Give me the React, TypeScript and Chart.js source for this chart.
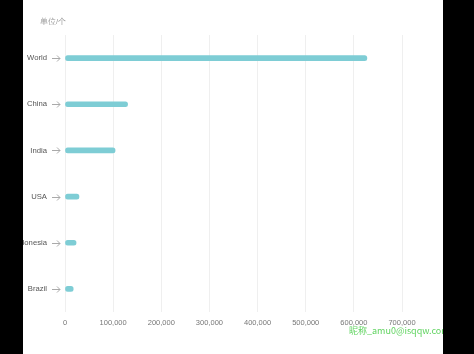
import React, { useEffect, useRef } from "react";
import { Chart, registerables } from "chart.js";

Chart.register(...registerables);

const categories = ["World", "China", "India", "USA", "Indonesia", "Brazil"];
const values = [627000, 130000, 104000, 29000, 23000, 17000];
const xTicks = [0, 100000, 200000, 300000, 400000, 500000, 600000, 700000];
const unitLabel = "单位/个";
const watermark = "昵称_amu0@isqqw.com";

const FONT = "'Liberation Sans', Arial, sans-serif";

const extrasPlugin = {
  id: "extras",
  afterDraw(chart: any) {
    const ctx = chart.ctx;
    const y = chart.scales.y;
    const left = chart.chartArea.left;
    ctx.save();
    ctx.strokeStyle = "#aaaaaa";
    ctx.lineWidth = 1;
    y.ticks.forEach((_t: any, i: number) => {
      const py = Math.round(y.getPixelForTick(i)) + 0.5;
      const x0 = left - 13;
      const x1 = left - 5;
      ctx.beginPath();
      ctx.moveTo(x0, py);
      ctx.lineTo(x1, py);
      ctx.moveTo(x1 - 3, py - 3);
      ctx.lineTo(x1, py);
      ctx.lineTo(x1 - 3, py + 3);
      ctx.stroke();
    });
    ctx.fillStyle = "#999999";
    ctx.font = `7.5px ${FONT}`;
    ctx.textBaseline = "middle";
    ctx.textAlign = "left";
    ctx.fillText(unitLabel, 17, 22);
    ctx.restore();
  },
};

export default function App() {
  const ref = useRef<HTMLCanvasElement>(null);
  useEffect(() => {
    document.body.style.margin = "0";
    const chart = new Chart(ref.current!, {
      type: "bar",
      data: {
        labels: categories,
        datasets: [
          {
            data: values,
            backgroundColor: "#7ecdd5",
            barThickness: 5,
            borderRadius: 3,
            borderSkipped: false,
          },
        ],
      },
      options: {
        indexAxis: "y",
        responsive: false,
        animation: false,
        devicePixelRatio: 1,
        layout: { padding: { top: 35, right: 41, bottom: 0, left: 0 } },
        plugins: { legend: { display: false }, tooltip: { enabled: false } },
        scales: {
          x: {
            min: 0,
            max: 700000,
            afterBuildTicks: (s: any) => {
              s.ticks = xTicks.map((v) => ({ value: v }));
            },
            afterFit: (s: any) => {
              s.height = 42;
            },
            border: { display: false },
            grid: { color: "#efefef", drawTicks: false },
            ticks: {
              padding: 6,
              color: "#777777",
              font: { size: 7.5, family: FONT },
              callback: (v: any) => Number(v).toLocaleString("en-US"),
            },
          },
          y: {
            afterFit: (s: any) => {
              s.width = 42;
            },
            border: { display: false },
            grid: { display: false, drawTicks: false },
            ticks: {
              padding: 18,
              color: "#555555",
              font: { size: 7.7, family: FONT },
            },
          },
        },
      },
      plugins: [extrasPlugin],
    });
    return () => chart.destroy();
  }, []);
  return (
    <div style={{ position: "fixed", left: 0, top: 0, width: 474, height: 354, background: "#000" }}>
      <div style={{ position: "absolute", left: 23, top: 0, width: 420, height: 354, background: "#fff", overflow: "hidden" }}>
        <canvas ref={ref} width={420} height={354} style={{ display: "block", width: 420, height: 354 }} />
        <div
          style={{
            position: "absolute",
            left: 326,
            top: 325,
            whiteSpace: "nowrap",
            color: "#5fd35f",
            fontSize: 9,
            lineHeight: "12px",
            fontFamily: "'Noto Sans CJK SC', sans-serif",
          }}
        >
          {watermark}
        </div>
      </div>
    </div>
  );
}
